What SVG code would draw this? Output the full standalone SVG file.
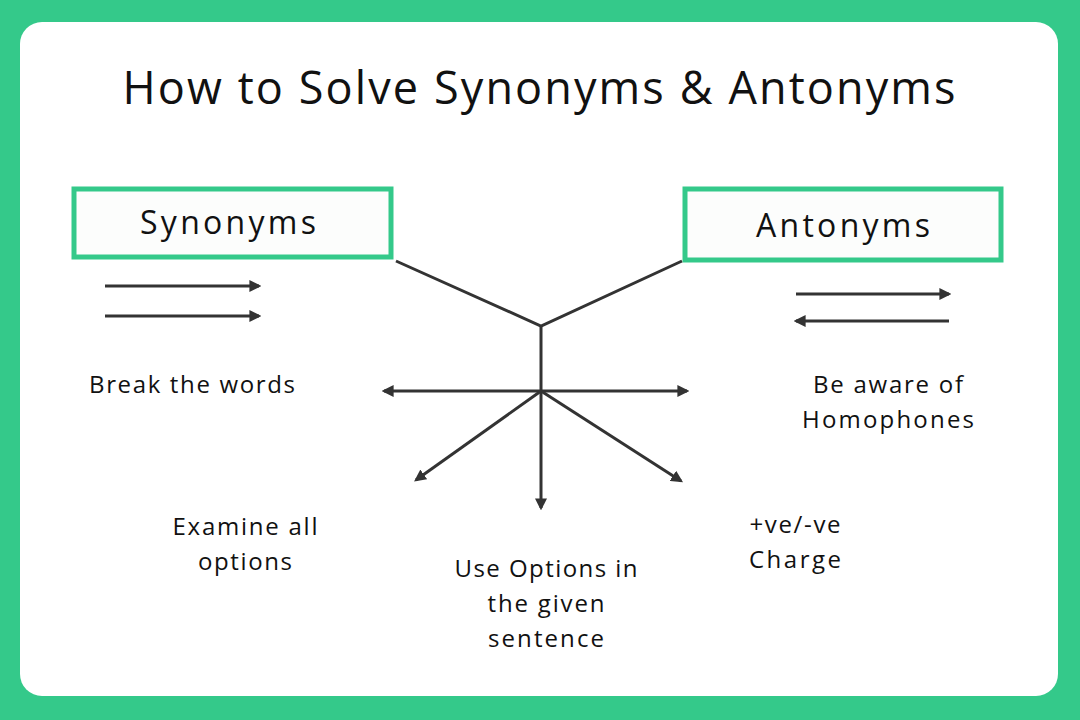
<svg xmlns="http://www.w3.org/2000/svg" width="1080" height="720" viewBox="0 0 1080 720">
<defs>
<marker id="ah" viewBox="0 0 10 10" refX="8" refY="5" markerWidth="4" markerHeight="4" orient="auto-start-reverse"><path d="M0,0 L10,5 L0,10 z" fill="#333"/></marker>
<style>
text{font-family:"Open Sans","Liberation Sans",sans-serif;fill:#111}
.t{font-size:24px;text-anchor:middle}
.box{fill:#fcfdfc;stroke:#34c98a;stroke-width:5}
.c{stroke:#333;stroke-width:3;fill:none}
.a{stroke:#333;stroke-width:3;fill:none;marker-end:url(#ah)}
.b{stroke:#333;stroke-width:3;fill:none;marker-end:url(#ah);marker-start:url(#ah)}
</style>
</defs>
<rect width="1080" height="720" fill="#34c98a"/>
<rect x="20" y="22" width="1038" height="674" rx="22" fill="#fff"/>
<text x="539" y="104" font-size="45" text-anchor="middle" textLength="833">How to Solve Synonyms &amp; Antonyms</text>
<g id="synonyms"><rect class="box" x="74" y="189" width="317" height="68"/><text x="228" y="234" font-size="32" text-anchor="middle" textLength="176">Synonyms</text></g>
<g id="antonyms"><rect class="box" x="685" y="189" width="316" height="71"/><text x="843" y="237" font-size="32" text-anchor="middle" textLength="174">Antonyms</text></g>
<g id="connectors">
<polyline class="c" points="396,261 541,326 682,261"/>
<line class="c" x1="541" y1="326" x2="541" y2="391"/>
<line class="b" x1="384" y1="391" x2="687" y2="391"/>
<line class="a" x1="541" y1="391" x2="416" y2="480"/>
<line class="a" x1="541" y1="391" x2="541" y2="508"/>
<line class="a" x1="541" y1="391" x2="681" y2="481"/>
<line class="a" x1="105" y1="286" x2="259" y2="286"/>
<line class="a" x1="105" y1="316" x2="259" y2="316"/>
<line class="a" x1="796" y1="294" x2="949" y2="294"/>
<line class="a" x1="949" y1="321" x2="796" y2="321"/>
</g>
<g id="break"><text class="t" x="192" y="393" textLength="206">Break the words</text></g>
<g id="homophones"><text class="t" x="888" y="393" textLength="150">Be aware of</text><text class="t" x="888" y="428" textLength="172">Homophones</text></g>
<g id="examine"><text class="t" x="245" y="535" textLength="145">Examine all</text><text class="t" x="245" y="570" textLength="94">options</text></g>
<g id="useoptions"><text class="t" x="546" y="577" textLength="183">Use Options in</text><text class="t" x="546" y="612" textLength="117">the given</text><text class="t" x="546" y="647" textLength="116">sentence</text></g>
<g id="charge"><text class="t" x="795" y="533" textLength="91">+ve/-ve</text><text class="t" x="795" y="568" textLength="92">Charge</text></g>
</svg>
